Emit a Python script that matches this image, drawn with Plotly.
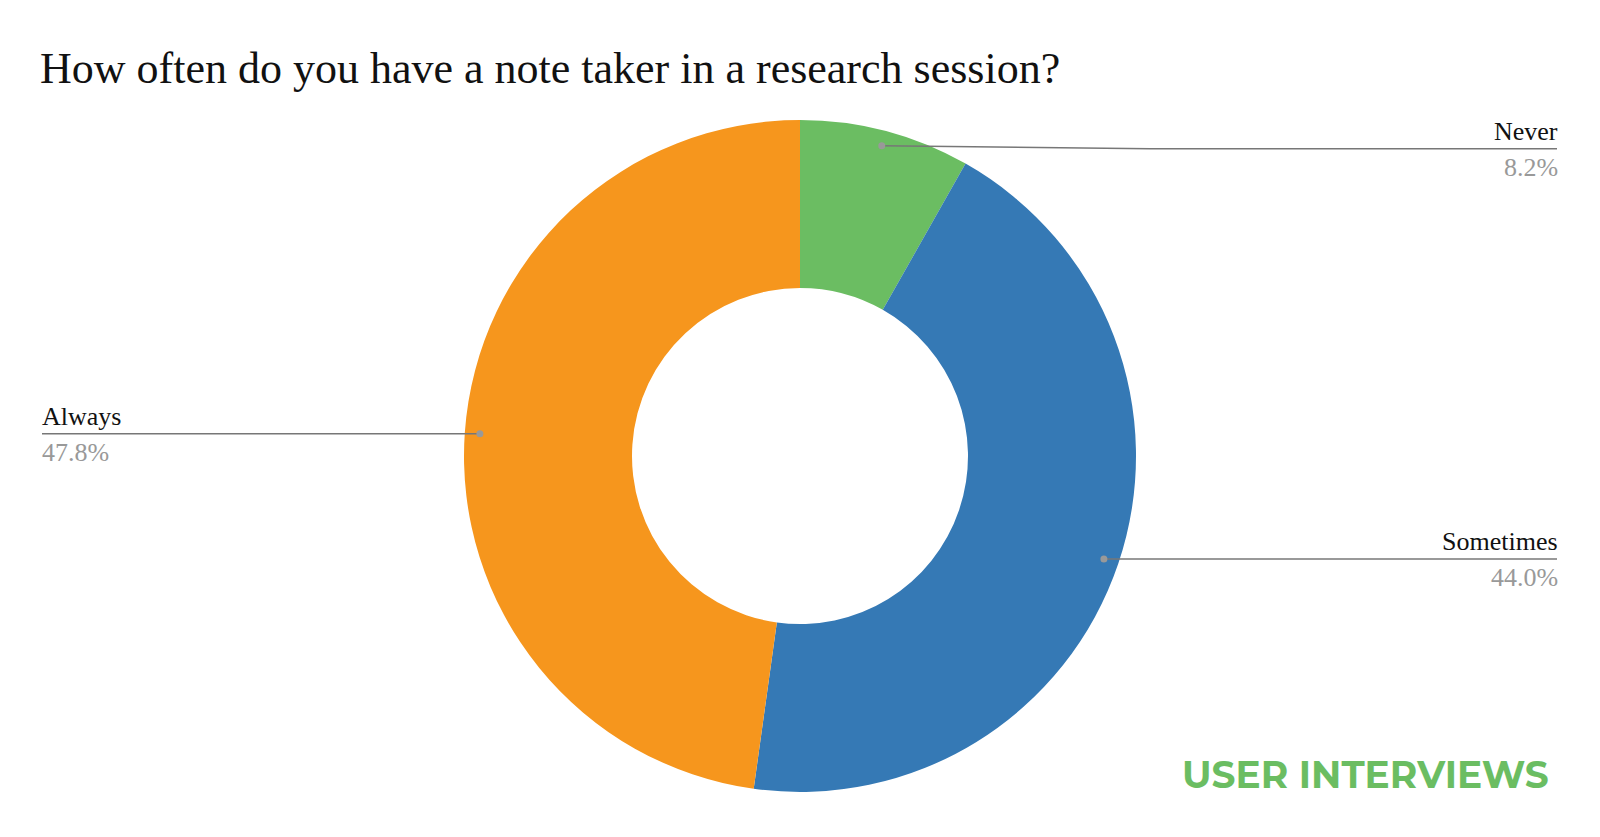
import math
import plotly.graph_objects as go

# Data
categories = ["Never", "Sometimes", "Always"]
shares = [8.2, 44.0, 47.8]
colors = ["#6BBD62", "#3579B5", "#F6961D"]
title_text = "How often do you have a note taker in a research session?"
brand_text = "USER INTERVIEWS"

OFF = 8  # page body margin
W, H = 1600 - 2 * OFF, 837 - 2 * OFF
CX, CY, R = 800, 456, 336  # donut centre / radius in screen pixels

def px(x):
    return (x - OFF) / W

def py(y):
    return 1 - (y - OFF) / H

fig = go.Figure(go.Pie(
    labels=categories,
    values=shares,
    marker=dict(colors=colors, line=dict(width=0)),
    hole=0.5,
    sort=False,
    direction="clockwise",
    rotation=0,
    textinfo="none",
    hoverinfo="label+percent",
    showlegend=False,
    domain=dict(x=[px(CX - R), px(CX + R)], y=[py(CY + R), py(CY - R)]),
))

shapes = []
annotations = []
total = sum(shares)
cum = 0.0
serif = "Georgia, 'Liberation Serif', serif"
label_font = dict(family=serif, size=26, color="#111111")
pct_font = dict(family=serif, size=26, color="#999999")
for cat, v in zip(categories, shares):
    mid = (cum + v / 2) / total
    cum += v
    ang = 2 * math.pi * mid
    rd = 0.955 * R
    dx = CX + rd * math.sin(ang)
    dy = CY - rd * math.cos(ang)
    right = math.sin(ang) > 0
    end_x = 1557 if right else 42
    text_x = end_x + 3 if right else end_x - 2
    if cat == "Never":
        line_y = dy + 3
        shapes.append(dict(type="path", xref="paper", yref="paper",
                           path=f"M {px(dx)} {py(dy)} L {px(1150)} {py(line_y)} L {px(end_x)} {py(line_y)}",
                           line=dict(color="#777777", width=1.5)))
    else:
        line_y = dy
        shapes.append(dict(type="line", xref="paper", yref="paper",
                           x0=px(dx), y0=py(dy), x1=px(end_x), y1=py(line_y),
                           line=dict(color="#777777", width=1.5)))
    shapes.append(dict(type="circle", xref="paper", yref="paper",
                       x0=px(dx - 3.5), x1=px(dx + 3.5), y0=py(dy + 3.5), y1=py(dy - 3.5),
                       fillcolor="#999999", line=dict(width=0)))
    anchor = "right" if right else "left"
    annotations.append(dict(x=px(text_x), y=py(line_y - 1), xref="paper", yref="paper",
                            text=cat, showarrow=False, xanchor=anchor, yanchor="bottom",
                            font=label_font))
    annotations.append(dict(x=px(text_x), y=py(line_y + 2), xref="paper", yref="paper",
                            text=f"{v:.1f}%", showarrow=False, xanchor=anchor, yanchor="top",
                            font=pct_font))

annotations.append(dict(x=px(38), y=py(68), xref="paper", yref="paper",
                        text=title_text, showarrow=False, xanchor="left", yanchor="middle",
                        font=dict(family=serif, size=44, color="#111111")))
annotations.append(dict(x=px(1551), y=py(774), xref="paper", yref="paper",
                        text=f"<b>{brand_text}</b>", showarrow=False, xanchor="right", yanchor="middle",
                        font=dict(family="Montserrat, 'Open Sans', sans-serif", size=37.5, color="#6BBD62")))

fig.update_layout(
    width=W, height=H,
    margin=dict(l=0, r=0, t=0, b=0),
    paper_bgcolor="white", plot_bgcolor="white",
    shapes=shapes, annotations=annotations,
)

fig.write_html("out.html")
